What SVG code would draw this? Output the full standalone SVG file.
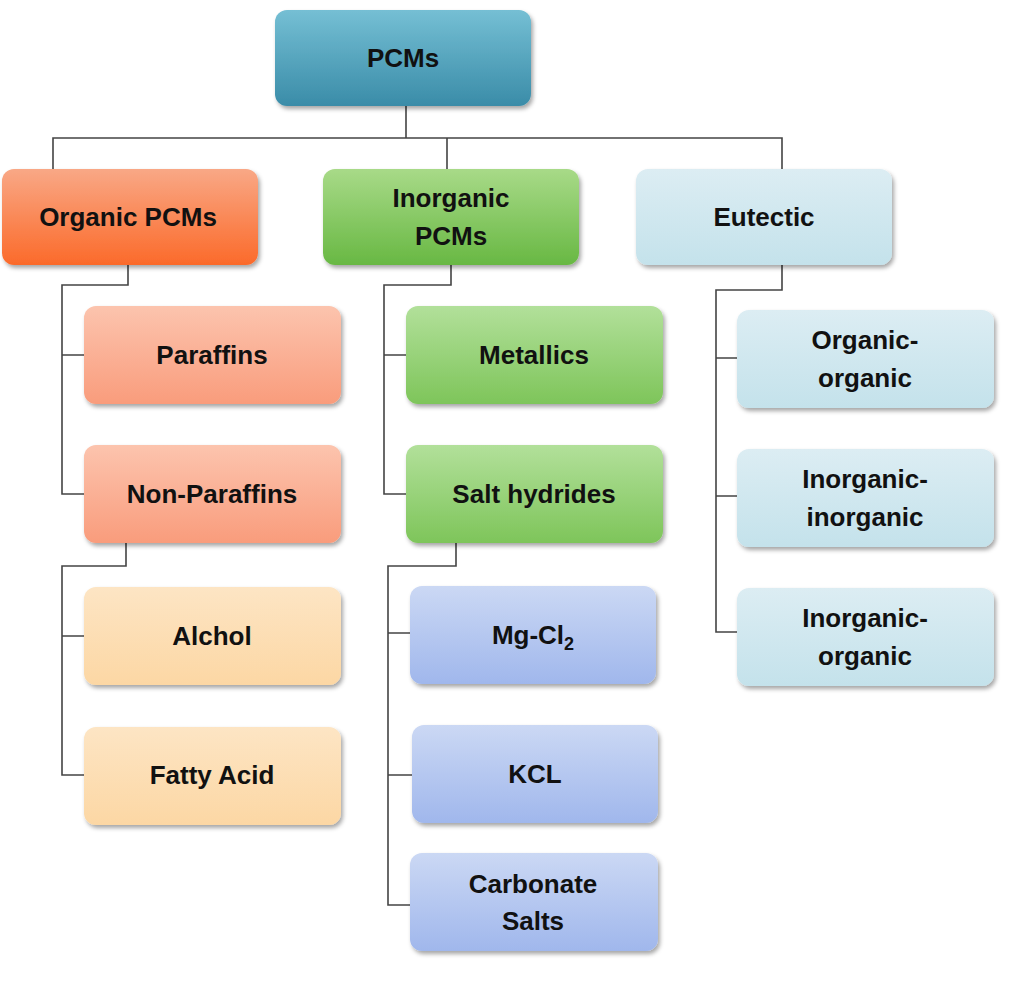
<svg xmlns="http://www.w3.org/2000/svg" width="1017" height="988" viewBox="0 0 1017 988">
<style>
text{font-family:"Liberation Sans",Arial,sans-serif;font-weight:bold;font-size:26px;fill:#111;text-anchor:middle}
.c{fill:none;stroke:#444;stroke-width:1.6}
rect{filter:url(#sh)}
</style>
<defs>
<filter id="sh" x="-10%" y="-10%" width="125%" height="130%"><feDropShadow dx="2" dy="3" stdDeviation="2" flood-color="#000" flood-opacity="0.35"/></filter>
<linearGradient id="gT" x1="0" y1="0" x2="0" y2="1"><stop offset="0" stop-color="#75bfd4"/><stop offset="1" stop-color="#3a8ca8"/></linearGradient>
<linearGradient id="gO" x1="0" y1="0" x2="0" y2="1"><stop offset="0" stop-color="#f9a886"/><stop offset="1" stop-color="#fb6a2a"/></linearGradient>
<linearGradient id="gI" x1="0" y1="0" x2="0" y2="1"><stop offset="0" stop-color="#a8da88"/><stop offset="1" stop-color="#68b843"/></linearGradient>
<linearGradient id="gE" x1="0" y1="0" x2="0" y2="1"><stop offset="0" stop-color="#dcedf3"/><stop offset="1" stop-color="#c4e2eb"/></linearGradient>
<linearGradient id="gP" x1="0" y1="0" x2="0" y2="1"><stop offset="0" stop-color="#fcc4ae"/><stop offset="1" stop-color="#f99c7c"/></linearGradient>
<linearGradient id="gA" x1="0" y1="0" x2="0" y2="1"><stop offset="0" stop-color="#fde5c4"/><stop offset="1" stop-color="#fcd7a4"/></linearGradient>
<linearGradient id="gM" x1="0" y1="0" x2="0" y2="1"><stop offset="0" stop-color="#b2e09a"/><stop offset="1" stop-color="#7ec55a"/></linearGradient>
<linearGradient id="gB" x1="0" y1="0" x2="0" y2="1"><stop offset="0" stop-color="#cbd8f4"/><stop offset="1" stop-color="#a0b7ec"/></linearGradient>
</defs>
<g id="connectors">
<path class="c" d="M406,106V138M53,169V138H782V169M447,138V169"/>
<path class="c" d="M128,265V285H62V494H84M62,355H84"/>
<path class="c" d="M126,543V566H62V775H84M62,636H84"/>
<path class="c" d="M451,265V285H384V494H406M384,355H406"/>
<path class="c" d="M456,543V566H388V905H410M388,633H410M388,775H412"/>
<path class="c" d="M782,265V290H716V632H737M716,358H737M716,496H737"/>
</g>
<g id="pcms"><rect x="275" y="10" width="256" height="96" rx="12" fill="url(#gT)"/><text x="403" y="67">PCMs</text></g>
<g id="organic"><rect x="2" y="169" width="256" height="96" rx="12" fill="url(#gO)"/><text x="128" y="226">Organic  PCMs</text></g>
<g id="inorganic"><rect x="323" y="169" width="256" height="96" rx="12" fill="url(#gI)"/><text x="451" y="207">Inorganic</text><text x="451" y="245">PCMs</text></g>
<g id="eutectic"><rect x="636" y="169" width="256" height="96" rx="12" fill="url(#gE)"/><text x="764" y="226">Eutectic</text></g>
<g id="paraffins"><rect x="84" y="306" width="257" height="98" rx="12" fill="url(#gP)"/><text x="212" y="364">Paraffins</text></g>
<g id="nonparaffins"><rect x="84" y="445" width="257" height="98" rx="12" fill="url(#gP)"/><text x="212" y="503">Non-Paraffins</text></g>
<g id="alchol"><rect x="84" y="587" width="257" height="98" rx="12" fill="url(#gA)"/><text x="212" y="645">Alchol</text></g>
<g id="fattyacid"><rect x="84" y="727" width="257" height="98" rx="12" fill="url(#gA)"/><text x="212" y="784">Fatty Acid</text></g>
<g id="metallics"><rect x="406" y="306" width="257" height="98" rx="12" fill="url(#gM)"/><text x="534" y="364">Metallics</text></g>
<g id="salthydrides"><rect x="406" y="445" width="257" height="98" rx="12" fill="url(#gM)"/><text x="534" y="503">Salt hydrides</text></g>
<g id="mgcl2"><rect x="410" y="586" width="246" height="98" rx="12" fill="url(#gB)"/><text x="533" y="644">Mg-Cl<tspan font-size="18" dy="6">2</tspan></text></g>
<g id="kcl"><rect x="412" y="725" width="246" height="98" rx="12" fill="url(#gB)"/><text x="535" y="783">KCL</text></g>
<g id="carbonate"><rect x="410" y="853" width="248" height="98" rx="12" fill="url(#gB)"/><text x="533" y="893">Carbonate</text><text x="533" y="930">Salts</text></g>
<g id="orgorg"><rect x="737" y="310" width="257" height="98" rx="12" fill="url(#gE)"/><text x="865" y="349">Organic-</text><text x="865" y="387">organic</text></g>
<g id="inorginorg"><rect x="737" y="449" width="257" height="98" rx="12" fill="url(#gE)"/><text x="865" y="488">Inorganic-</text><text x="865" y="526">inorganic</text></g>
<g id="inorgorg"><rect x="737" y="588" width="257" height="98" rx="12" fill="url(#gE)"/><text x="865" y="627">Inorganic-</text><text x="865" y="665">organic</text></g>
</svg>
